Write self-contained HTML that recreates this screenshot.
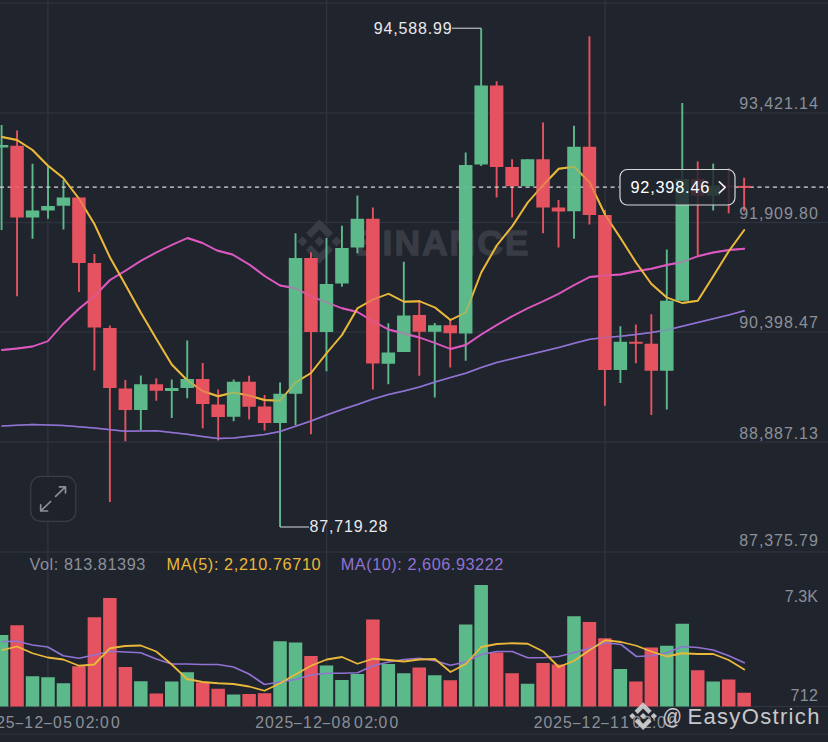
<!DOCTYPE html>
<html><head><meta charset="utf-8"><title>BTC chart</title>
<style>html,body{margin:0;padding:0;background:#20242d;overflow:hidden}body{width:828px;height:742px}</style></head>
<body>
<svg width="828" height="742" viewBox="0 0 828 742" style="display:block;font-family:'Liberation Sans',sans-serif">
<rect width="828" height="742" fill="#20242d"/>
<rect x="0" y="2.3" width="828" height="1.4" fill="#2f333d"/>
<rect x="0" y="112.3" width="828" height="1.4" fill="#2f333d"/>
<rect x="0" y="221.8" width="828" height="1.4" fill="#2f333d"/>
<rect x="0" y="331.3" width="828" height="1.4" fill="#2f333d"/>
<rect x="0" y="441.3" width="828" height="1.4" fill="#2f333d"/>
<rect x="0" y="551.3" width="828" height="1.4" fill="#2f333d"/>
<rect x="0" y="705.8" width="828" height="1.4" fill="#2f333d"/>
<rect x="0" y="733.4" width="828" height="1.4" fill="#2b2f39"/>
<rect x="47.199999999999996" y="0" width="1.4" height="706.5" fill="#2f333d"/>
<rect x="325.90000000000003" y="0" width="1.4" height="706.5" fill="#2f333d"/>
<rect x="604.4" y="0" width="1.4" height="706.5" fill="#2f333d"/>
<g transform="translate(297.5,219.5) scale(0.3475)" fill="#393c45"><path d="M38.73 53.2l24.59-24.58 24.6 24.6 14.3-14.31L63.32 0 24.42 38.9l14.31 14.3zM0 63.31l14.3-14.31 14.31 14.31-14.31 14.3L0 63.31zm38.73 10.11l24.59 24.59 24.6-24.6 14.31 14.29-38.9 38.91-38.91-38.88 14.31-14.31zm59.27-10.1l14.3-14.31 14.31 14.3-14.31 14.32-14.3-14.31zM77.83 63.3L63.32 48.78 52.59 59.51l-1.24 1.23-2.54 2.54 14.51 14.5 14.51-14.47z"/></g>
<text x="355" y="255" font-size="35.5" font-weight="700" fill="#393c45" stroke="#393c45" stroke-width="1.3" textLength="173.5" lengthAdjust="spacing">BINANCE</text>
<rect x="0.64" y="125" width="1.9" height="105.00" fill="#5cba8a"/>
<rect x="16.11" y="130.5" width="1.9" height="165.75" fill="#e55360"/>
<rect x="31.58" y="163.75" width="1.9" height="75.00" fill="#5cba8a"/>
<rect x="47.05" y="166" width="1.9" height="52.75" fill="#5cba8a"/>
<rect x="62.52" y="180" width="1.9" height="49.50" fill="#5cba8a"/>
<rect x="77.99" y="197.5" width="1.9" height="94.50" fill="#e55360"/>
<rect x="93.46" y="254" width="1.9" height="116.50" fill="#e55360"/>
<rect x="108.93" y="325.5" width="1.9" height="176.50" fill="#e55360"/>
<rect x="124.40" y="380" width="1.9" height="61.25" fill="#e55360"/>
<rect x="139.87" y="375.5" width="1.9" height="54.50" fill="#5cba8a"/>
<rect x="155.34" y="378.25" width="1.9" height="22.50" fill="#e55360"/>
<rect x="170.81" y="379.5" width="1.9" height="38.50" fill="#5cba8a"/>
<rect x="186.28" y="340.5" width="1.9" height="57.75" fill="#5cba8a"/>
<rect x="201.75" y="363" width="1.9" height="65.25" fill="#e55360"/>
<rect x="217.22" y="389.5" width="1.9" height="51.00" fill="#e55360"/>
<rect x="232.69" y="379.5" width="1.9" height="41.75" fill="#5cba8a"/>
<rect x="248.16" y="375.75" width="1.9" height="43.75" fill="#e55360"/>
<rect x="263.63" y="395" width="1.9" height="35.50" fill="#e55360"/>
<rect x="279.10" y="382.5" width="1.9" height="144.50" fill="#5cba8a"/>
<rect x="294.57" y="233.25" width="1.9" height="191.75" fill="#5cba8a"/>
<rect x="310.04" y="252.5" width="1.9" height="181.75" fill="#e55360"/>
<rect x="325.51" y="238" width="1.9" height="133.25" fill="#5cba8a"/>
<rect x="340.98" y="225.75" width="1.9" height="61.00" fill="#5cba8a"/>
<rect x="356.45" y="195.5" width="1.9" height="57.75" fill="#5cba8a"/>
<rect x="371.92" y="207.5" width="1.9" height="182.00" fill="#e55360"/>
<rect x="387.39" y="323.25" width="1.9" height="61.00" fill="#5cba8a"/>
<rect x="402.86" y="261.75" width="1.9" height="90.25" fill="#5cba8a"/>
<rect x="418.33" y="300" width="1.9" height="75.75" fill="#e55360"/>
<rect x="433.80" y="323" width="1.9" height="74.50" fill="#5cba8a"/>
<rect x="449.27" y="320" width="1.9" height="47.50" fill="#e55360"/>
<rect x="464.74" y="152.5" width="1.9" height="208.25" fill="#5cba8a"/>
<rect x="480.21" y="28.25" width="1.9" height="137.75" fill="#5cba8a"/>
<rect x="495.68" y="81.25" width="1.9" height="116.25" fill="#e55360"/>
<rect x="511.15" y="159.25" width="1.9" height="58.25" fill="#e55360"/>
<rect x="526.62" y="159.25" width="1.9" height="27.00" fill="#5cba8a"/>
<rect x="542.09" y="122.5" width="1.9" height="110.75" fill="#e55360"/>
<rect x="557.56" y="200" width="1.9" height="47.50" fill="#e55360"/>
<rect x="573.03" y="125.75" width="1.9" height="113.00" fill="#5cba8a"/>
<rect x="588.50" y="36.25" width="1.9" height="188.25" fill="#e55360"/>
<rect x="603.97" y="210" width="1.9" height="195.75" fill="#e55360"/>
<rect x="619.44" y="326.25" width="1.9" height="56.75" fill="#5cba8a"/>
<rect x="634.91" y="324.5" width="1.9" height="38.75" fill="#e55360"/>
<rect x="650.38" y="314.25" width="1.9" height="100.75" fill="#e55360"/>
<rect x="665.85" y="249.5" width="1.9" height="160.00" fill="#5cba8a"/>
<rect x="681.32" y="103" width="1.9" height="197.75" fill="#5cba8a"/>
<rect x="696.79" y="161.5" width="1.9" height="94.00" fill="#e55360"/>
<rect x="712.26" y="163.6" width="1.9" height="46.90" fill="#5cba8a"/>
<rect x="727.73" y="168.5" width="1.9" height="44.80" fill="#e55360"/>
<rect x="743.20" y="177.7" width="1.9" height="33.60" fill="#e55360"/>
<clipPath id="dc"><rect x="0" y="180" width="619.4" height="16"/><rect x="735.6" y="180" width="100" height="16"/></clipPath>
<line x1="-0.1" y1="187.2" x2="836" y2="187.2" stroke="#cfd1d5" stroke-width="1.3" stroke-dasharray="4.1 3.63" clip-path="url(#dc)"/>
<g opacity="1"><polyline points="2.00,426.00 32.50,424.50 63.25,425.50 94.25,428.00 125.00,431.25 156.25,430.75 187.00,434.25 202.50,436.50 218.00,438.50 233.50,438.00 249.00,436.25 264.50,434.50 280.00,431.50 295.50,426.25 311.00,421.00 326.75,415.00 342.00,409.50 357.50,404.50 373.00,399.00 388.50,394.50 404.00,391.00 419.50,387.00 435.00,382.00 450.50,377.50 465.75,373.25 481.25,367.50 496.75,362.50 512.25,358.75 527.75,355.00 543.25,351.25 558.75,347.50 574.25,343.25 589.75,339.25 605.25,337.50 620.40,336.25 636.00,334.50 651.25,332.50 666.75,330.00 682.25,326.25 697.75,322.50 713.25,318.75 728.75,315.00 744.25,310.75" fill="none" stroke="#9072d2" stroke-width="1.6" stroke-linejoin="round" stroke-linecap="round"/><polyline points="2.00,350.00 17.00,348.50 32.50,346.50 47.75,341.25 63.25,323.75 79.00,308.75 94.25,296.25 110.00,280.00 125.00,271.00 141.00,260.75 156.25,252.50 171.75,245.00 187.50,238.00 202.50,243.00 217.00,250.50 232.50,254.50 250.00,265.00 265.00,276.25 280.00,285.50 295.50,288.25 311.00,296.25 326.75,302.50 342.00,308.25 357.50,312.00 373.00,321.25 388.50,329.50 404.00,333.50 419.50,337.50 435.00,343.00 450.50,349.00 465.75,345.00 481.25,334.50 496.75,325.00 512.25,316.25 527.75,308.25 543.25,301.25 558.75,293.75 574.25,285.00 589.75,277.00 605.25,275.50 620.40,274.50 636.00,271.25 651.25,268.75 666.75,265.00 682.25,262.00 697.75,256.25 713.25,252.50 728.75,250.00 744.25,248.75" fill="none" stroke="#dc58c0" stroke-width="1.85" stroke-linejoin="round" stroke-linecap="round"/><polyline points="2.00,137.00 17.00,140.00 32.50,150.00 47.75,165.50 63.25,178.00 79.00,198.75 94.25,223.75 110.00,257.50 125.00,284.00 140.75,312.50 156.25,338.75 171.75,364.50 187.00,380.00 202.50,391.00 218.00,396.25 233.50,392.50 249.00,395.50 264.50,400.00 280.00,400.75 295.50,382.50 311.00,373.00 326.75,353.00 342.00,335.00 357.50,308.25 373.00,299.50 388.50,293.75 404.00,301.75 419.50,301.25 435.00,307.50 450.50,320.00 465.75,312.50 481.25,272.50 496.75,245.50 512.25,226.25 527.75,202.50 543.25,185.00 558.75,168.75 574.25,166.75 589.75,182.50 605.25,215.00 620.50,238.00 636.00,262.50 651.25,283.75 666.75,297.50 682.25,303.00 697.75,300.75 713.25,276.25 728.75,251.25 744.25,230.00" fill="none" stroke="#eab83a" stroke-width="1.85" stroke-linejoin="round" stroke-linecap="round"/></g>
<rect x="-5.16" y="145" width="13.5" height="2.50" fill="#5cba8a"/>
<rect x="10.31" y="145.75" width="13.5" height="71.75" fill="#e55360"/>
<rect x="25.78" y="210.5" width="13.5" height="7.00" fill="#5cba8a"/>
<rect x="41.25" y="206" width="13.5" height="4.50" fill="#5cba8a"/>
<rect x="56.72" y="197.5" width="13.5" height="8.25" fill="#5cba8a"/>
<rect x="72.19" y="197.5" width="13.5" height="65.50" fill="#e55360"/>
<rect x="87.66" y="263" width="13.5" height="64.50" fill="#e55360"/>
<rect x="103.13" y="328" width="13.5" height="60.00" fill="#e55360"/>
<rect x="118.60" y="388.5" width="13.5" height="21.50" fill="#e55360"/>
<rect x="134.07" y="384.25" width="13.5" height="25.75" fill="#5cba8a"/>
<rect x="149.54" y="384.25" width="13.5" height="6.50" fill="#e55360"/>
<rect x="165.01" y="388" width="13.5" height="3.00" fill="#5cba8a"/>
<rect x="180.48" y="379" width="13.5" height="9.00" fill="#5cba8a"/>
<rect x="195.95" y="379" width="13.5" height="25.00" fill="#e55360"/>
<rect x="211.42" y="404.5" width="13.5" height="12.50" fill="#e55360"/>
<rect x="226.89" y="381.75" width="13.5" height="35.00" fill="#5cba8a"/>
<rect x="242.36" y="381.75" width="13.5" height="25.00" fill="#e55360"/>
<rect x="257.83" y="406.5" width="13.5" height="16.50" fill="#e55360"/>
<rect x="273.30" y="393.75" width="13.5" height="29.25" fill="#5cba8a"/>
<rect x="288.77" y="258" width="13.5" height="135.75" fill="#5cba8a"/>
<rect x="304.24" y="258" width="13.5" height="74.00" fill="#e55360"/>
<rect x="319.71" y="284" width="13.5" height="48.00" fill="#5cba8a"/>
<rect x="335.18" y="248" width="13.5" height="35.50" fill="#5cba8a"/>
<rect x="350.65" y="218.75" width="13.5" height="28.75" fill="#5cba8a"/>
<rect x="366.12" y="218.75" width="13.5" height="144.75" fill="#e55360"/>
<rect x="381.59" y="352.5" width="13.5" height="11.25" fill="#5cba8a"/>
<rect x="397.06" y="315.5" width="13.5" height="36.50" fill="#5cba8a"/>
<rect x="412.53" y="315" width="13.5" height="16.75" fill="#e55360"/>
<rect x="428.00" y="325.25" width="13.5" height="6.50" fill="#5cba8a"/>
<rect x="443.47" y="325.25" width="13.5" height="8.00" fill="#e55360"/>
<rect x="458.94" y="165" width="13.5" height="168.50" fill="#5cba8a"/>
<rect x="474.41" y="85.5" width="13.5" height="79.00" fill="#5cba8a"/>
<rect x="489.88" y="85.5" width="13.5" height="81.50" fill="#e55360"/>
<rect x="505.35" y="167" width="13.5" height="19.25" fill="#e55360"/>
<rect x="520.82" y="159.25" width="13.5" height="27.00" fill="#5cba8a"/>
<rect x="536.29" y="159.25" width="13.5" height="48.25" fill="#e55360"/>
<rect x="551.76" y="207.5" width="13.5" height="4.00" fill="#e55360"/>
<rect x="567.23" y="146.75" width="13.5" height="64.50" fill="#5cba8a"/>
<rect x="582.70" y="146.75" width="13.5" height="68.25" fill="#e55360"/>
<rect x="598.17" y="215" width="13.5" height="155.00" fill="#e55360"/>
<rect x="613.64" y="341.75" width="13.5" height="28.25" fill="#5cba8a"/>
<rect x="629.11" y="341.75" width="13.5" height="2.00" fill="#e55360"/>
<rect x="644.58" y="343.75" width="13.5" height="27.00" fill="#e55360"/>
<rect x="660.05" y="300.75" width="13.5" height="70.00" fill="#5cba8a"/>
<rect x="675.52" y="179" width="13.5" height="121.75" fill="#5cba8a"/>
<rect x="690.99" y="179" width="13.5" height="16.80" fill="#e55360"/>
<rect x="706.46" y="185.6" width="13.5" height="10.10" fill="#5cba8a"/>
<rect x="721.93" y="185.6" width="13.5" height="1.60" fill="#e55360"/>
<rect x="737.40" y="185.9" width="13.5" height="2.00" fill="#e55360"/>
<line x1="-0.1" y1="187.2" x2="836" y2="187.2" stroke="#cfd1d5" stroke-width="1.3" stroke-dasharray="4.1 3.63" clip-path="url(#dc)" opacity="0.15"/>
<g opacity="0.5"><polyline points="2.00,426.00 32.50,424.50 63.25,425.50 94.25,428.00 125.00,431.25 156.25,430.75 187.00,434.25 202.50,436.50 218.00,438.50 233.50,438.00 249.00,436.25 264.50,434.50 280.00,431.50 295.50,426.25 311.00,421.00 326.75,415.00 342.00,409.50 357.50,404.50 373.00,399.00 388.50,394.50 404.00,391.00 419.50,387.00 435.00,382.00 450.50,377.50 465.75,373.25 481.25,367.50 496.75,362.50 512.25,358.75 527.75,355.00 543.25,351.25 558.75,347.50 574.25,343.25 589.75,339.25 605.25,337.50 620.40,336.25 636.00,334.50 651.25,332.50 666.75,330.00 682.25,326.25 697.75,322.50 713.25,318.75 728.75,315.00 744.25,310.75" fill="none" stroke="#9072d2" stroke-width="1.6" stroke-linejoin="round" stroke-linecap="round"/><polyline points="2.00,350.00 17.00,348.50 32.50,346.50 47.75,341.25 63.25,323.75 79.00,308.75 94.25,296.25 110.00,280.00 125.00,271.00 141.00,260.75 156.25,252.50 171.75,245.00 187.50,238.00 202.50,243.00 217.00,250.50 232.50,254.50 250.00,265.00 265.00,276.25 280.00,285.50 295.50,288.25 311.00,296.25 326.75,302.50 342.00,308.25 357.50,312.00 373.00,321.25 388.50,329.50 404.00,333.50 419.50,337.50 435.00,343.00 450.50,349.00 465.75,345.00 481.25,334.50 496.75,325.00 512.25,316.25 527.75,308.25 543.25,301.25 558.75,293.75 574.25,285.00 589.75,277.00 605.25,275.50 620.40,274.50 636.00,271.25 651.25,268.75 666.75,265.00 682.25,262.00 697.75,256.25 713.25,252.50 728.75,250.00 744.25,248.75" fill="none" stroke="#dc58c0" stroke-width="1.85" stroke-linejoin="round" stroke-linecap="round"/><polyline points="2.00,137.00 17.00,140.00 32.50,150.00 47.75,165.50 63.25,178.00 79.00,198.75 94.25,223.75 110.00,257.50 125.00,284.00 140.75,312.50 156.25,338.75 171.75,364.50 187.00,380.00 202.50,391.00 218.00,396.25 233.50,392.50 249.00,395.50 264.50,400.00 280.00,400.75 295.50,382.50 311.00,373.00 326.75,353.00 342.00,335.00 357.50,308.25 373.00,299.50 388.50,293.75 404.00,301.75 419.50,301.25 435.00,307.50 450.50,320.00 465.75,312.50 481.25,272.50 496.75,245.50 512.25,226.25 527.75,202.50 543.25,185.00 558.75,168.75 574.25,166.75 589.75,182.50 605.25,215.00 620.50,238.00 636.00,262.50 651.25,283.75 666.75,297.50 682.25,303.00 697.75,300.75 713.25,276.25 728.75,251.25 744.25,230.00" fill="none" stroke="#eab83a" stroke-width="1.85" stroke-linejoin="round" stroke-linecap="round"/></g>
<path d="M452 28.25H481.16" stroke="#b9bcc2" stroke-width="1.2" fill="none"/>
<text x="373.75" y="34.3" font-size="16" fill="#e9eaec" textLength="78" lengthAdjust="spacing">94,588.99</text>
<path d="M280.05 527H309" stroke="#b9bcc2" stroke-width="1.2" fill="none"/>
<text x="309.5" y="531.8" font-size="16" fill="#e9eaec" textLength="78" lengthAdjust="spacing">87,719.28</text>
<text x="739.3" y="108.8" font-size="16" fill="#8c9098" textLength="78.5" lengthAdjust="spacing">93,421.14</text>
<text x="739.3" y="219.3" font-size="16" fill="#8c9098" textLength="78.5" lengthAdjust="spacing">91,909.80</text>
<text x="739.3" y="328.3" font-size="16" fill="#8c9098" textLength="78.5" lengthAdjust="spacing">90,398.47</text>
<text x="739.3" y="438.8" font-size="16" fill="#8c9098" textLength="78.5" lengthAdjust="spacing">88,887.13</text>
<text x="739.3" y="545.8" font-size="16" fill="#8c9098" textLength="78.5" lengthAdjust="spacing">87,375.79</text>
<text x="784.8" y="602" font-size="16" fill="#8c9098" textLength="33" lengthAdjust="spacing">7.3K</text>
<text x="790.5" y="700.8" font-size="16" fill="#8c9098" textLength="27.3" lengthAdjust="spacing">712</text>
<rect x="620" y="169.5" width="115" height="35.5" rx="7.5" fill="rgba(32,36,45,0.83)" stroke="#d3d5d9" stroke-width="1.2"/>
<text x="630.5" y="193" font-size="16.3" fill="#ffffff" textLength="78.8" lengthAdjust="spacing">92,398.46</text>
<path d="M719.3 181.8L725.2 187.3L719.3 192.8" fill="none" stroke="#f0f0f2" stroke-width="1.6" stroke-linecap="round" stroke-linejoin="round"/>
<rect x="30.8" y="476.4" width="45" height="45" rx="10" fill="rgba(30,34,42,0.75)" stroke="#3a3e49" stroke-width="1.2"/>
<g fill="none" stroke="#8a8e96" stroke-width="1.7" stroke-linecap="round" stroke-linejoin="round"><path d="M55.6 496.4L65.4 486.9M59.4 486.8H65.5V493"/><path d="M50.6 501.5L40.8 510.9M40.7 504.9V511H47.5"/></g>
<rect x="-5.16" y="635" width="13.5" height="71.50" fill="#5cba8a"/>
<rect x="10.31" y="625.25" width="13.5" height="81.25" fill="#e55360"/>
<rect x="25.78" y="676.25" width="13.5" height="30.25" fill="#5cba8a"/>
<rect x="41.25" y="677.25" width="13.5" height="29.25" fill="#5cba8a"/>
<rect x="56.72" y="683.25" width="13.5" height="23.25" fill="#5cba8a"/>
<rect x="72.19" y="666.25" width="13.5" height="40.25" fill="#e55360"/>
<rect x="87.66" y="617.25" width="13.5" height="89.25" fill="#e55360"/>
<rect x="103.13" y="598" width="13.5" height="108.50" fill="#e55360"/>
<rect x="118.60" y="667" width="13.5" height="39.50" fill="#e55360"/>
<rect x="134.07" y="681.25" width="13.5" height="25.25" fill="#5cba8a"/>
<rect x="149.54" y="693.5" width="13.5" height="13.00" fill="#e55360"/>
<rect x="165.01" y="681.5" width="13.5" height="25.00" fill="#5cba8a"/>
<rect x="180.48" y="672.25" width="13.5" height="34.25" fill="#5cba8a"/>
<rect x="195.95" y="682.5" width="13.5" height="24.00" fill="#e55360"/>
<rect x="211.42" y="688.75" width="13.5" height="17.75" fill="#e55360"/>
<rect x="226.89" y="694.5" width="13.5" height="12.00" fill="#5cba8a"/>
<rect x="242.36" y="694" width="13.5" height="12.50" fill="#e55360"/>
<rect x="257.83" y="693.25" width="13.5" height="13.25" fill="#e55360"/>
<rect x="273.30" y="641.25" width="13.5" height="65.25" fill="#5cba8a"/>
<rect x="288.77" y="642.5" width="13.5" height="64.00" fill="#5cba8a"/>
<rect x="304.24" y="656" width="13.5" height="50.50" fill="#e55360"/>
<rect x="319.71" y="665.5" width="13.5" height="41.00" fill="#5cba8a"/>
<rect x="335.18" y="680" width="13.5" height="26.50" fill="#5cba8a"/>
<rect x="350.65" y="674" width="13.5" height="32.50" fill="#5cba8a"/>
<rect x="366.12" y="619.5" width="13.5" height="87.00" fill="#e55360"/>
<rect x="381.59" y="664" width="13.5" height="42.50" fill="#5cba8a"/>
<rect x="397.06" y="673.25" width="13.5" height="33.25" fill="#5cba8a"/>
<rect x="412.53" y="667.5" width="13.5" height="39.00" fill="#e55360"/>
<rect x="428.00" y="675.25" width="13.5" height="31.25" fill="#5cba8a"/>
<rect x="443.47" y="680.25" width="13.5" height="26.25" fill="#e55360"/>
<rect x="458.94" y="624.5" width="13.5" height="82.00" fill="#5cba8a"/>
<rect x="474.41" y="585" width="13.5" height="121.50" fill="#5cba8a"/>
<rect x="489.88" y="652.5" width="13.5" height="54.00" fill="#e55360"/>
<rect x="505.35" y="673.25" width="13.5" height="33.25" fill="#e55360"/>
<rect x="520.82" y="683.75" width="13.5" height="22.75" fill="#5cba8a"/>
<rect x="536.29" y="663" width="13.5" height="43.50" fill="#e55360"/>
<rect x="551.76" y="664.5" width="13.5" height="42.00" fill="#e55360"/>
<rect x="567.23" y="616.25" width="13.5" height="90.25" fill="#5cba8a"/>
<rect x="582.70" y="622" width="13.5" height="84.50" fill="#e55360"/>
<rect x="598.17" y="638.25" width="13.5" height="68.25" fill="#e55360"/>
<rect x="613.64" y="669" width="13.5" height="37.50" fill="#5cba8a"/>
<rect x="629.11" y="681.5" width="13.5" height="25.00" fill="#e55360"/>
<rect x="644.58" y="647.5" width="13.5" height="59.00" fill="#e55360"/>
<rect x="660.05" y="645.75" width="13.5" height="60.75" fill="#5cba8a"/>
<rect x="675.52" y="623.75" width="13.5" height="82.75" fill="#5cba8a"/>
<rect x="690.99" y="670.25" width="13.5" height="36.25" fill="#e55360"/>
<rect x="706.46" y="681.5" width="13.5" height="25.00" fill="#5cba8a"/>
<rect x="721.93" y="679.5" width="13.5" height="27.00" fill="#e55360"/>
<rect x="737.40" y="692.75" width="13.5" height="13.75" fill="#e55360"/>
<polyline points="2.50,641.50 17.00,641.25 32.50,645.00 47.75,647.00 63.25,655.75 79.00,658.25 94.25,655.00 110.00,651.25 125.00,652.00 140.75,652.75 156.25,659.00 171.75,664.00 187.00,664.00 202.50,664.50 218.00,664.50 233.50,667.00 249.00,674.00 264.50,684.50 280.00,682.00 295.50,679.50 311.00,675.00 326.75,673.25 342.00,673.25 357.50,672.75 373.00,665.75 388.50,662.00 404.00,659.50 419.50,658.25 435.00,660.75 450.50,665.25 465.75,662.00 481.25,654.50 496.75,651.50 512.25,651.50 527.75,657.75 543.25,657.75 558.75,656.50 574.25,652.50 589.75,648.25 605.25,642.75 621.00,644.50 636.50,656.50 651.30,655.75 666.80,652.75 682.30,646.50 697.70,647.50 713.20,650.00 728.70,655.75 744.25,662.75" fill="none" stroke="#9072d2" stroke-width="1.7" stroke-linejoin="round" stroke-linecap="round"/>
<polyline points="2.50,650.00 17.00,646.50 32.50,653.25 47.75,657.50 63.25,659.50 79.00,665.75 94.25,664.50 110.00,648.25 125.00,646.00 140.75,645.50 156.25,651.50 171.75,664.50 187.00,679.00 202.50,682.00 218.00,683.25 233.50,684.00 249.00,686.50 264.50,690.75 280.00,683.25 295.50,674.50 311.00,665.75 326.75,659.50 342.00,657.00 357.50,663.75 373.00,658.75 388.50,660.00 404.00,661.50 419.50,659.50 435.00,659.00 450.50,672.00 465.75,664.00 481.25,647.00 496.75,644.00 512.25,643.25 527.75,643.75 543.25,651.50 558.75,667.00 574.25,660.75 589.75,650.00 605.25,640.25 621.00,642.00 636.50,645.75 651.30,651.50 666.80,656.50 682.30,653.25 697.70,654.00 713.20,654.00 728.70,660.00 744.25,669.50" fill="none" stroke="#eab83a" stroke-width="1.8" stroke-linejoin="round" stroke-linecap="round"/>
<text x="29.4" y="569.6" font-size="16.3" fill="#8c9098" textLength="116" lengthAdjust="spacing">Vol: 813.81393</text>
<text x="166.6" y="569.6" font-size="16.3" fill="#eab83a" textLength="154" lengthAdjust="spacing">MA(5): 2,210.76710</text>
<text x="340.7" y="569.6" font-size="16.3" fill="#9072d2" textLength="162.6" lengthAdjust="spacing">MA(10): 2,606.93222</text>
<text x="-23.40" y="727.7" font-size="15.7" fill="#8c9098" textLength="38" lengthAdjust="spacing">2025</text>
<text x="15.50" y="727.7" font-size="15.7" fill="#8c9098" textLength="7.7" lengthAdjust="spacingAndGlyphs">–</text>
<text x="24.30" y="727.7" font-size="15.7" fill="#8c9098" textLength="19" lengthAdjust="spacing">12</text>
<text x="43.90" y="727.7" font-size="15.7" fill="#8c9098" textLength="7.7" lengthAdjust="spacingAndGlyphs">–</text>
<text x="52.90" y="727.7" font-size="15.7" fill="#8c9098" textLength="19" lengthAdjust="spacing">05</text>
<text x="75.40" y="727.7" font-size="15.7" fill="#8c9098" textLength="19.2" lengthAdjust="spacing">02</text>
<text x="94.80" y="727.7" font-size="15.7" fill="#8c9098" textLength="4.3" lengthAdjust="spacing">:</text>
<text x="99.90" y="727.7" font-size="15.7" fill="#8c9098" textLength="19.8" lengthAdjust="spacing">00</text>
<text x="255.20" y="727.7" font-size="15.7" fill="#8c9098" textLength="38" lengthAdjust="spacing">2025</text>
<text x="294.10" y="727.7" font-size="15.7" fill="#8c9098" textLength="7.7" lengthAdjust="spacingAndGlyphs">–</text>
<text x="302.90" y="727.7" font-size="15.7" fill="#8c9098" textLength="19" lengthAdjust="spacing">12</text>
<text x="322.50" y="727.7" font-size="15.7" fill="#8c9098" textLength="7.7" lengthAdjust="spacingAndGlyphs">–</text>
<text x="331.50" y="727.7" font-size="15.7" fill="#8c9098" textLength="19" lengthAdjust="spacing">08</text>
<text x="354.00" y="727.7" font-size="15.7" fill="#8c9098" textLength="19.2" lengthAdjust="spacing">02</text>
<text x="373.40" y="727.7" font-size="15.7" fill="#8c9098" textLength="4.3" lengthAdjust="spacing">:</text>
<text x="378.50" y="727.7" font-size="15.7" fill="#8c9098" textLength="19.8" lengthAdjust="spacing">00</text>
<text x="533.80" y="727.7" font-size="15.7" fill="#8c9098" textLength="38" lengthAdjust="spacing">2025</text>
<text x="572.70" y="727.7" font-size="15.7" fill="#8c9098" textLength="7.7" lengthAdjust="spacingAndGlyphs">–</text>
<text x="581.50" y="727.7" font-size="15.7" fill="#8c9098" textLength="19" lengthAdjust="spacing">12</text>
<text x="601.10" y="727.7" font-size="15.7" fill="#8c9098" textLength="7.7" lengthAdjust="spacingAndGlyphs">–</text>
<text x="610.10" y="727.7" font-size="15.7" fill="#8c9098" textLength="19" lengthAdjust="spacing">11</text>
<text x="632.60" y="727.7" font-size="15.7" fill="#8c9098" textLength="19.2" lengthAdjust="spacing">02</text>
<text x="652.00" y="727.7" font-size="15.7" fill="#8c9098" textLength="4.3" lengthAdjust="spacing">:</text>
<text x="657.10" y="727.7" font-size="15.7" fill="#8c9098" textLength="19.8" lengthAdjust="spacing">00</text>
<g transform="translate(629.2,702.2) scale(0.2196)" fill="#d0d1d3" fill-opacity="0.92"><path d="M38.73 53.2l24.59-24.58 24.6 24.6 14.3-14.31L63.32 0 24.42 38.9l14.31 14.3zM0 63.31l14.3-14.31 14.31 14.31-14.31 14.3L0 63.31zm38.73 10.11l24.59 24.59 24.6-24.6 14.31 14.29-38.9 38.91-38.91-38.88 14.31-14.31zm59.27-10.1l14.3-14.31 14.31 14.3-14.31 14.32-14.3-14.31zM77.83 63.3L63.32 48.78 52.59 59.51l-1.24 1.23-2.54 2.54 14.51 14.5 14.51-14.47z"/></g>
<text x="662.3" y="724.2" font-size="22" fill="#c6c8cc" textLength="19.8" lengthAdjust="spacingAndGlyphs">@</text>
<text x="687.4" y="724.2" font-size="22" fill="#c6c8cc" textLength="132" lengthAdjust="spacing">EasyOstrich</text>
</svg>
</body></html>
